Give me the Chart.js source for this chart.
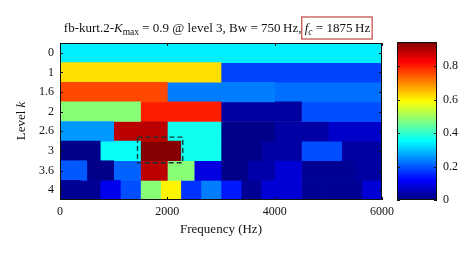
<!DOCTYPE html>
<html>
<head>
<meta charset="utf-8">
<script src="https://cdn.jsdelivr.net/npm/chart.js@4.4.1/dist/chart.umd.min.js"></script>
<style>
  html, body { margin: 0; padding: 0; background: #fff; }
  #wrap { width: 474px; height: 253px; }
</style>
</head>
<body>
<div id="wrap"><canvas id="kurt" width="474" height="253"></canvas></div>
<script>
// kurtogram levels, top row first
const levels = ["0", "1", "1.6", "2", "2.6", "3", "3.6", "4"];
// spectral kurtosis of each band, low to high frequency
const kurtL0 = [0.34];
const kurtL1 = [0.62, 0.18];
const kurtL16 = [0.76, 0.235, 0.22];
const kurtL2 = [0.48, 0.80, 0.03, 0.19];
const kurtL26 = [0.26, 0.89, 0.37, 0.01, 0.035, 0.07];
const kurtL3 = [0.01, 0.36, 0.94, 0.37, 0.01, 0.035, 0.19, 0.03];
const kurtL36 = [0.20, 0.01, 0.21, 0.89, 0.48, 0.09, 0.01, 0.04, 0.08, 0.02, 0.02, 0.03];
const kurtL4 = [0.02, 0.02, 0.105, 0.19, 0.48, 0.60, 0.165, 0.235, 0.14, 0.02, 0.08, 0.08, 0.02, 0.02, 0.02, 0.08];
const kurtRows = [kurtL0, kurtL1, kurtL16, kurtL2, kurtL26, kurtL3, kurtL36, kurtL4];

const fMax = 6000;
const xTicks = [0, 2000, 4000, 6000];
const cbTicks = [0, 0.2, 0.4, 0.6, 0.8];
const cbMax = 0.945;
// selected band (dashed box)
const bestLevel = "3";
const bestFc = 1875;
const bestBw = 750;

const SERIF = "'Liberation Serif', 'DejaVu Serif', serif";

function jet(t) {
    t = Math.max(0, Math.min(1, t));
    const c = v => Math.round(255 * Math.max(0, Math.min(1, v)));
    const r = c(1.5 - Math.abs(4 * t - 3));
    const g = c(1.5 - Math.abs(4 * t - 2));
    const b = c(1.5 - Math.abs(4 * t - 1));
    return "rgb(" + r + "," + g + "," + b + ")";
}

const maxBands = Math.max(...kurtRows.map(r => r.length));
const datasets = [];
for (let j = 0; j < maxBands; j++) {
    datasets.push({
        data: kurtRows.map(row => j < row.length ? fMax / row.length : null),
        backgroundColor: ctx => {
            const row = kurtRows[ctx.dataIndex];
            return j < row.length ? jet(row[j] / cbMax) : "rgba(0,0,0,0)";
        },
        borderWidth: 0,
        barPercentage: 1,
        categoryPercentage: 1
    });
}

const decorations = {
    id: "decorations",
    afterDatasetsDraw: function (chart) {
        const ctx = chart.ctx;
        const a = chart.chartArea;
        const xs = chart.scales.x;
        const ys = chart.scales.y;

        // dashed box round the selected band
        const row = levels.indexOf(bestLevel);
        const half = (ys.getPixelForValue(1) - ys.getPixelForValue(0)) / 2;
        const yc = ys.getPixelForValue(row);
        const x0 = xs.getPixelForValue(bestFc - bestBw / 2) - 3;
        const x1 = xs.getPixelForValue(bestFc + bestBw / 2) + 2;
        ctx.save();
        ctx.strokeStyle = "#123838";
        ctx.lineWidth = 1.4;
        ctx.setLineDash([5, 3]);
        ctx.strokeRect(x0, yc - half - 4, x1 - x0, 2 * half + 6);
        ctx.restore();

        // frame and inner tick marks
        ctx.save();
        ctx.strokeStyle = "#111";
        ctx.lineWidth = 1;
        ctx.strokeRect(a.left + 0.5, a.top + 0.5, a.right - a.left - 1, a.bottom - a.top - 1);
        ctx.beginPath();
        xTicks.forEach(v => {
            const x = Math.round(xs.getPixelForValue(v)) + 0.5;
            ctx.moveTo(x, a.bottom); ctx.lineTo(x, a.bottom - 3);
            ctx.moveTo(x, a.top); ctx.lineTo(x, a.top + 3);
        });
        levels.forEach((l, i) => {
            const y = Math.round(ys.getPixelForValue(i)) + 0.5;
            ctx.moveTo(a.left, y); ctx.lineTo(a.left + 3, y);
            ctx.moveTo(a.right, y); ctx.lineTo(a.right - 3, y);
        });
        ctx.stroke();
        ctx.restore();
    },
    afterDraw: function (chart) {
        const ctx = chart.ctx;
        const a = chart.chartArea;
        ctx.save();
        ctx.fillStyle = "#111";

        // title with subscripts and the boxed f_c
        const reg = "13px " + SERIF;
        const ital = "italic 13px " + SERIF;
        const sub = "9.5px " + SERIF;
        const subI = "italic 9.5px " + SERIF;
        const parts = [
            { t: "fb-kurt.2-", f: reg, dy: 0 },
            { t: "K", f: ital, dy: 0 },
            { t: "max", f: sub, dy: 3 },
            { t: " = 0.9 @ level 3, Bw = 750\u2009Hz, ", f: reg, dy: 0 },
            { box: "start" },
            { t: "f", f: ital, dy: 0 },
            { t: "c", f: subI, dy: 3 },
            { t: " = 1875\u2009Hz", f: reg, dy: 0 },
            { box: "end" }
        ];
        let total = 0;
        parts.forEach(p => { if (p.t) { ctx.font = p.f; total += ctx.measureText(p.t).width; } });
        let x = 217 - total / 2;
        const base = 32;
        let boxX0 = 0;
        ctx.textBaseline = "alphabetic";
        ctx.textAlign = "left";
        parts.forEach(p => {
            if (p.box === "start") { boxX0 = x - 3; return; }
            if (p.box === "end") {
                ctx.strokeStyle = "#c65350";
                ctx.lineWidth = 1.3;
                ctx.strokeRect(boxX0, 17, x + 2 - boxX0, 22);
                return;
            }
            ctx.font = p.f;
            ctx.fillText(p.t, x, base + p.dy);
            x += ctx.measureText(p.t).width;
        });

        // axis titles
        ctx.font = "13px " + SERIF;
        ctx.textAlign = "center";
        ctx.textBaseline = "middle";
        ctx.fillText("Frequency (Hz)", (a.left + a.right) / 2, 230);

        ctx.save();
        ctx.translate(22, 121);
        ctx.rotate(-Math.PI / 2);
        ctx.font = "13px " + SERIF;
        const w1 = ctx.measureText("Level ").width;
        ctx.font = "italic 13px " + SERIF;
        const w2 = ctx.measureText("k").width;
        ctx.textAlign = "left";
        ctx.font = "13px " + SERIF;
        ctx.fillText("Level ", -(w1 + w2) / 2, 0);
        ctx.font = "italic 13px " + SERIF;
        ctx.fillText("k", -(w1 + w2) / 2 + w1, 0);
        ctx.restore();

        // colour bar
        const cbL = 397, cbR = 437, cbTop = 42, cbBot = 200;
        const grad = ctx.createLinearGradient(0, cbBot, 0, cbTop);
        for (let i = 0; i <= 32; i++) grad.addColorStop(i / 32, jet(i / 32));
        ctx.fillStyle = grad;
        ctx.fillRect(cbL, cbTop, cbR - cbL, cbBot - cbTop);
        ctx.strokeStyle = "#111";
        ctx.lineWidth = 1;
        ctx.strokeRect(cbL + 0.5, cbTop + 0.5, cbR - cbL - 1, cbBot - cbTop - 1);
        ctx.fillStyle = "#111";
        ctx.font = "12px " + SERIF;
        ctx.textAlign = "left";
        ctx.textBaseline = "middle";
        ctx.beginPath();
        cbTicks.forEach(v => {
            const y = cbBot - (v / cbMax) * (cbBot - cbTop);
            ctx.fillText(String(v), 443, y);
            const yy = Math.round(y) + 0.5;
            ctx.moveTo(cbR, yy); ctx.lineTo(cbR - 3, yy);
            ctx.moveTo(cbL, yy); ctx.lineTo(cbL + 3, yy);
        });
        ctx.stroke();
        ctx.restore();
    }
};

new Chart(document.getElementById("kurt"), {
    type: "bar",
    data: { labels: levels, datasets: datasets },
    options: {
        indexAxis: "y",
        responsive: false,
        animation: false,
        devicePixelRatio: 1,
        layout: { padding: { top: 43, right: 92, left: 0, bottom: 0 } },
        plugins: { legend: { display: false }, tooltip: { enabled: false } },
        scales: {
            x: {
                type: "linear",
                stacked: true,
                min: 0,
                max: fMax,
                afterBuildTicks: s => { s.ticks = xTicks.map(v => ({ value: v })); },
                afterFit: s => { s.height = 53; },
                grid: { display: false, drawTicks: false },
                border: { display: false },
                ticks: {
                    color: "#111", padding: 5, maxRotation: 0,
                    font: { family: SERIF, size: 12 },
                    callback: v => String(v)
                }
            },
            y: {
                stacked: true,
                afterFit: s => { s.width = 60; },
                grid: { display: false, drawTicks: false },
                border: { display: false },
                ticks: { color: "#111", padding: 6, font: { family: SERIF, size: 12 } }
            }
        }
    },
    plugins: [decorations]
});
</script>
</body>
</html>
